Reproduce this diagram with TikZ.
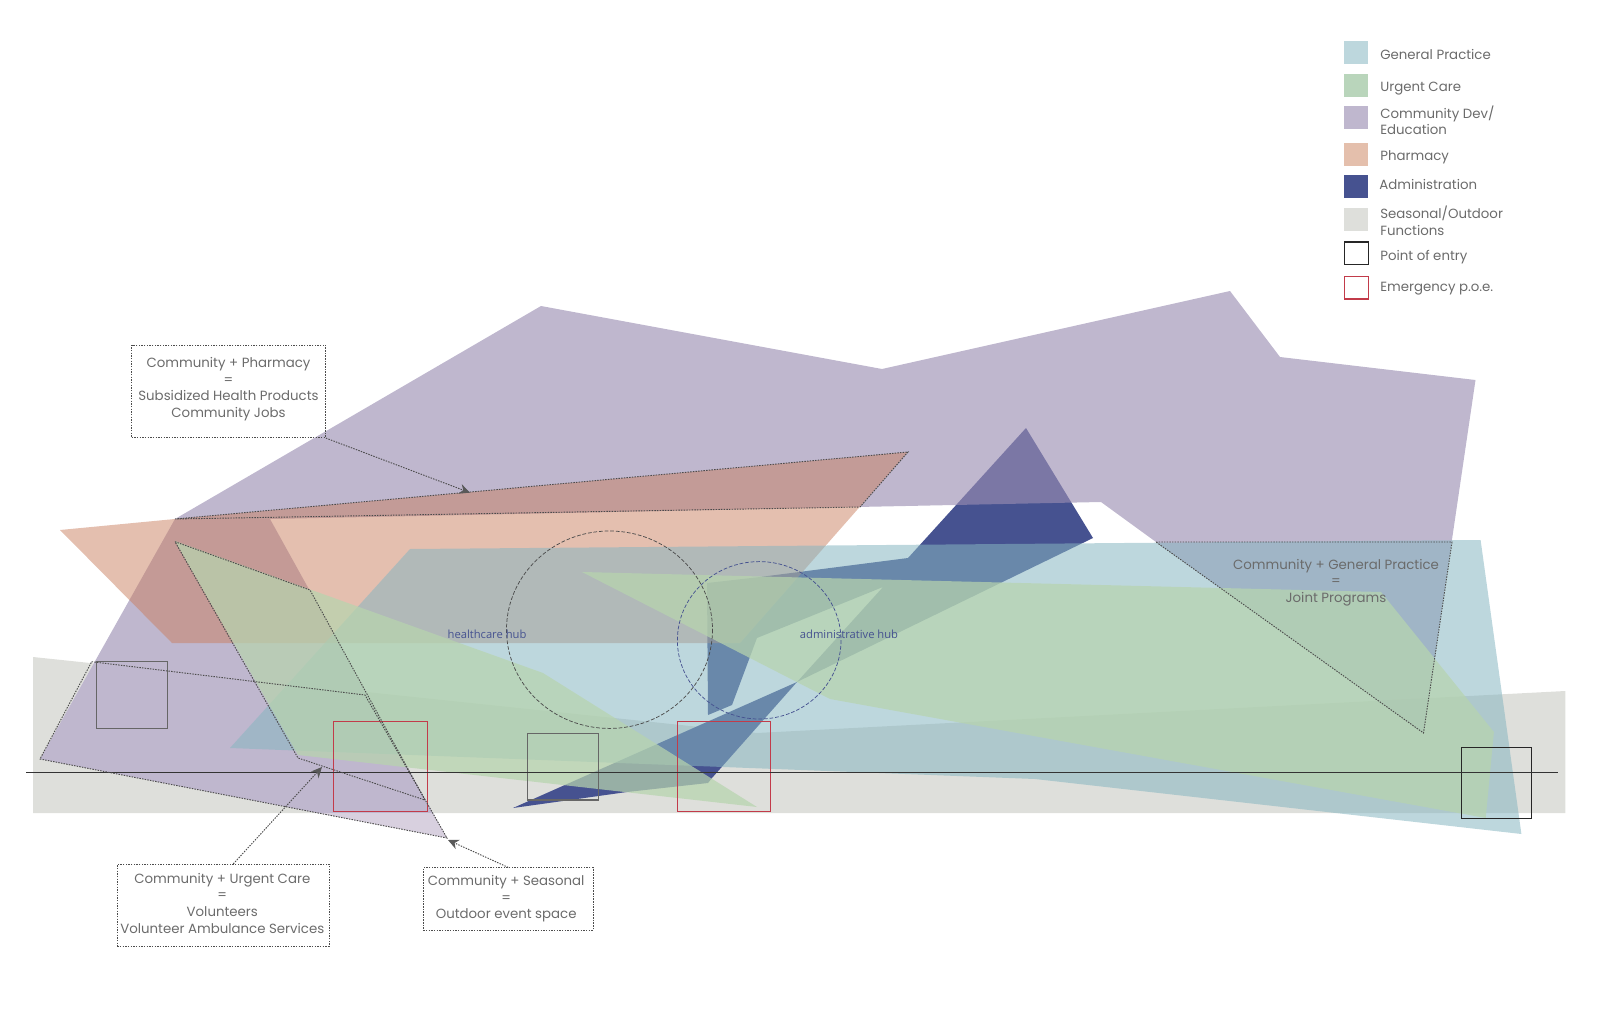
\documentclass[tikz,border=0pt]{standalone}
\usepackage{fontspec}
\setmainfont{Poppins}
\newfontfamily\hubfont{Open Sans}
\usetikzlibrary{arrows.meta,calc}
\definecolor{cgrey}{HTML}{DEDFDB}
\definecolor{cadmin}{HTML}{465290}
\definecolor{cpurple}{HTML}{9A8DB2}
\definecolor{cpurpleL}{HTML}{BFB7CE}
\definecolor{ctail}{HTML}{D8D0DF}
\definecolor{cpharm}{HTML}{C97F60}
\definecolor{cpharmL}{HTML}{E4BFAC}
\definecolor{cgp}{HTML}{87B6C1}
\definecolor{cgpL}{HTML}{BDD7DD}
\definecolor{cgreen}{HTML}{B7D4AE}
\definecolor{cgreenL}{HTML}{B9D5BB}
\definecolor{cred}{HTML}{C23B4A}
\definecolor{ctext}{HTML}{6B6B6B}
\tikzset{
  purplefill/.style={fill=cpurple,fill opacity=.63},
  pharmfill/.style={fill=cpharm,fill opacity=.5},
  gpfill/.style={fill=cgp,fill opacity=.55},
  greenfill/.style={fill=cgreen,fill opacity=.72},
  dotline/.style={draw=black!70,line width=.7pt,dash pattern=on 1.1pt off .9pt},
  hubring/.style={line width=.55pt,dash pattern=on 2.8pt off 1.4pt},
  entry/.style={line width=.85pt},
  swatch/.style={minimum width=18pt,minimum height=17pt,inner sep=0pt},
  legtext/.style={anchor=west,inner sep=0pt,text=ctext,font=\fontsize{10}{12.3}\selectfont,align=left},
  calloutbox/.style={dotline,inner sep=0pt},
  callouttext/.style={align=center,inner sep=0pt,text=ctext,font=\fontsize{10}{12.4}\selectfont},
  hublabel/.style={inner sep=0pt,text=cadmin,font=\hubfont\fontsize{8.4}{9}\selectfont},
  conn/.style={dotline,-{Stealth[length=8pt,width=7.5pt,color=black!65]}}
}
\begin{document}
\begin{tikzpicture}[x=.75pt,y=-.75pt]
\useasboundingbox (0,0) rectangle (1600,1035);
% seasonal
\fill[cgrey] (33,657) -- (757,733) -- (1565.3,691) -- (1565.3,813) -- (33,813) -- cycle;
% backing of the community shape
\fill[white] (175,519) -- (40,759) -- (318,813) -- (433,813) -- (270,519) -- cycle;
% administration
\fill[cadmin] (1026,428) -- (1093,538) -- (797,682) -- (883,587) -- (757,638) -- (732,705) -- (708,715) -- (707,583) -- (760,577) -- (908,558) -- cycle
  (513,808) -- (797,682) -- (712,778) -- (708,783) -- (627,792) -- cycle;
% community
\fill[purplefill] (175,519) -- (541,306) -- (882,369) -- (1230,291) -- (1280,357) -- (1475.5,380) -- (1423.5,733) -- (1156,542) -- (1101,502) -- (270,519) -- (433,813) -- (318,813) -- (40,759) -- cycle;
\fill[ctail] (318,813) -- (433,813) -- (447,838) -- cycle;
% pharmacy
\fill[pharmfill] (60,530) -- (175,519) -- (908,452) -- (740,643) -- (172,643) -- cycle;
% general practice
\fill[gpfill] (410,549) -- (1480.6,540) -- (1521.4,834) -- (1035,779) -- (230,748) -- cycle;
% urgent care
\fill[greenfill] (175,541) -- (543,673) -- (757,807) -- (298,755) -- cycle;
\fill[greenfill] (582,572) -- (1381,592) -- (1493.9,732) -- (1485.7,818) -- (830,699) -- cycle;
% points of entry
\draw[entry,draw=black!60] (96.3,661.7) rectangle (167.3,728.3);
\draw[entry,draw=black!60] (527.3,733.3) rectangle (598.3,800);
\draw[entry,draw=black!85] (1461.2,747.7) rectangle (1531.6,818.3);
\draw[entry,draw=cred] (333.3,721.7) rectangle (427.3,811.7);
\draw[entry,draw=cred] (677.3,721.7) rectangle (770.7,811.7);
% ground line
\draw[line width=.8pt,draw=black!80] (26,772.3) -- (1558,772.3);
% hubs
\draw[hubring,draw=black!70] (609.5,629.7) ellipse [x radius=103,y radius=98.7];
\draw[hubring,draw=cadmin] (759.2,640.3) ellipse [x radius=81.8,y radius=78.7];
\node[hublabel] (hubH) at (487,634.5) {healthcare hub};
\node[hublabel] (hubA) at (849,634.5) {administrative hub};
% overlap outlines
\draw[dotline] (175,519) -- (908,452) -- (860,507) -- cycle;
\draw[dotline] (175,541.7) -- (310,590) -- (425,800) -- (298,758) -- cycle;
\draw[dotline] (91.7,661.7) -- (365,695) -- (447,838) -- (40,759) -- cycle;
\draw[dotline] (1156,542) -- (1452,542) -- (1423.5,733) -- cycle;
% callouts
\node[calloutbox,draw,minimum width=145.4pt,minimum height=69.5pt] (boxP) at (228.5,391.3) {};
\node[calloutbox,draw,minimum width=159pt,minimum height=61.3pt] (boxU) at (223.3,905.2) {};
\node[calloutbox,draw,minimum width=127.3pt,minimum height=46.7pt] (boxS) at (508.2,899) {};
\node[callouttext] (txtP) at ($(boxP.center)+(0,-2)$) {Community + Pharmacy\\=\\Subsidized Health Products\\Community Jobs};
\node[callouttext] (txtU) at ($(boxU.center)+(-1,-2)$) {Community + Urgent Care\\=\\Volunteers\\Volunteer Ambulance Services};
\node[callouttext] (txtS) at ($(boxS.center)+(-2,0)$) {Community + Seasonal\\=\\Outdoor event space};
\node[callouttext] (txtG) at (1336,582.5) {Community + General Practice\\=\\Joint Programs};
\coordinate (tipP) at (470,492.7);
\coordinate (tipU) at (322,767);
\coordinate (tipS) at (448,840);
\draw[conn] (boxP.south east) -- (tipP);
\draw[conn] ($(boxU.north)+(10,0)$) -- (tipU);
\draw[conn] (boxS.north) -- (tipS);
% legend
\node[swatch,fill=cgpL] (s1) at (1356.2,52.7) {};
\node[swatch,fill=cgreenL] (s2) at (1356.2,85.8) {};
\node[swatch,fill=cpurpleL] (s3) at (1356.2,117.5) {};
\node[swatch,fill=cpharmL] (s4) at (1356.2,154.2) {};
\node[swatch,fill=cadmin] (s5) at (1356.2,186.5) {};
\node[swatch,fill=cgrey] (s6) at (1356.2,219.2) {};
\node[swatch,draw=black!85,line width=.85pt] (s7) at (1356.2,253.3) {};
\node[swatch,draw=cred,line width=.85pt] (s8) at (1356.2,287.7) {};
\node[legtext] (l1) at (1380,54.7) {General Practice};
\node[legtext] (l2) at (1380,88.2) {Urgent Care};
\node[legtext] (l3) at (1380,120.5) {Community Dev/\\Education};
\node[legtext] (l4) at (1380,157) {Pharmacy};
\node[legtext] (l5) at (1379,184.7) {Administration};
\node[legtext] (l6) at (1380,220.7) {Seasonal/Outdoor\\Functions};
\node[legtext] (l7) at (1380,257.3) {Point of entry};
\node[legtext] (l8) at (1380,288.7) {Emergency p.o.e.};
\end{tikzpicture}
\end{document}
